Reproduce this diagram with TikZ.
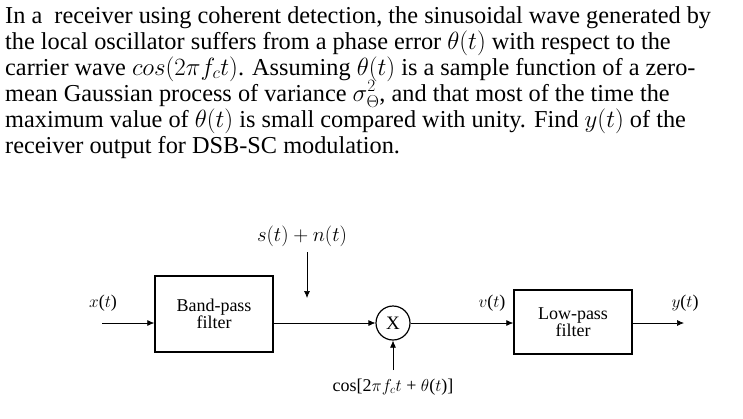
\documentclass[tikz,border=0pt]{standalone}
\usepackage{fontspec}
\setmainfont{Liberation Serif}
\usetikzlibrary{arrows.meta}
\begin{document}
\begin{tikzpicture}[x=1pt,y=-1pt,
  txt/.style={anchor=base west,inner sep=0pt,font=\fontsize{24.3}{26}\selectfont},
  blk/.style={draw,line width=1.4pt,minimum width=118pt,minimum height=76pt,align=center,font=\fontsize{18}{16}\selectfont,inner sep=1pt},
  lbl/.style={font=\fontsize{18}{18}\selectfont,inner sep=1pt},
  conn/.style={line width=0.7pt,-{Latex[length=7pt,width=6pt]}}]
\useasboundingbox (0,0) rectangle (743,418);
\node[txt] (l1) at (5,23) {In a\ \ receiver using coherent detection, the sinusoidal wave generated by};
\node[txt] (l2) at (5,49) {the local oscillator suffers from a phase error $\theta(t)$ with respect to the};
\node[txt] (l3) at (5,75) {carrier wave $cos(2\pi f_c t)$. Assuming $\theta(t)$ is a sample function of a zero-};
\node[txt] (l4) at (5,101) {mean Gaussian process of variance $\smash{\sigma_\Theta^2}$, and that most of the time the};
\node[txt] (l5) at (5,127) {maximum value of $\theta(t)$ is small compared with unity. Find $y(t)$ of the};
\node[txt] (l6) at (5,153) {receiver output for DSB-SC modulation.};
\node[blk] (bpf) at (214,314) {Band-pass\\filter};
\node[draw,circle,line width=1.2pt,minimum size=34pt,inner sep=0pt,font=\fontsize{19}{19}\selectfont] (mx) at (393,323) {X};
\node[blk,minimum height=64pt] (lpf) at (573,322) {Low-pass\\filter};
\coordinate (xin) at (102,323);
\coordinate (yout) at (684,323);
\coordinate (sn) at (307,252);
\coordinate (snend) at (307,298);
\coordinate (cosb) at (393,370);
\node[lbl] (xt) at (103,303) {$x$($t$)};
\node[lbl] (vt) at (492,303) {$v$($t$)};
\node[lbl] (yt) at (685,303) {$y$($t$)};
\node[font=\fontsize{20}{20}\selectfont] (snt) at (302,236) {$s(t)+n(t)$};
\node[lbl] (cost) at (393,387) {cos[2$\pi f_c t$ + $\theta$($t$)]};
\draw[conn] (xin) -- (xin-|bpf.west);
\draw[conn] (bpf.east|-mx) -- (mx.west);
\draw[conn] (mx.east) -- (mx-|lpf.west);
\draw[conn] (mx-|lpf.east) -- (yout);
\draw[conn] (sn) -- (snend);
\draw[conn] (cosb) -- (mx.south);
\end{tikzpicture}
\end{document}
